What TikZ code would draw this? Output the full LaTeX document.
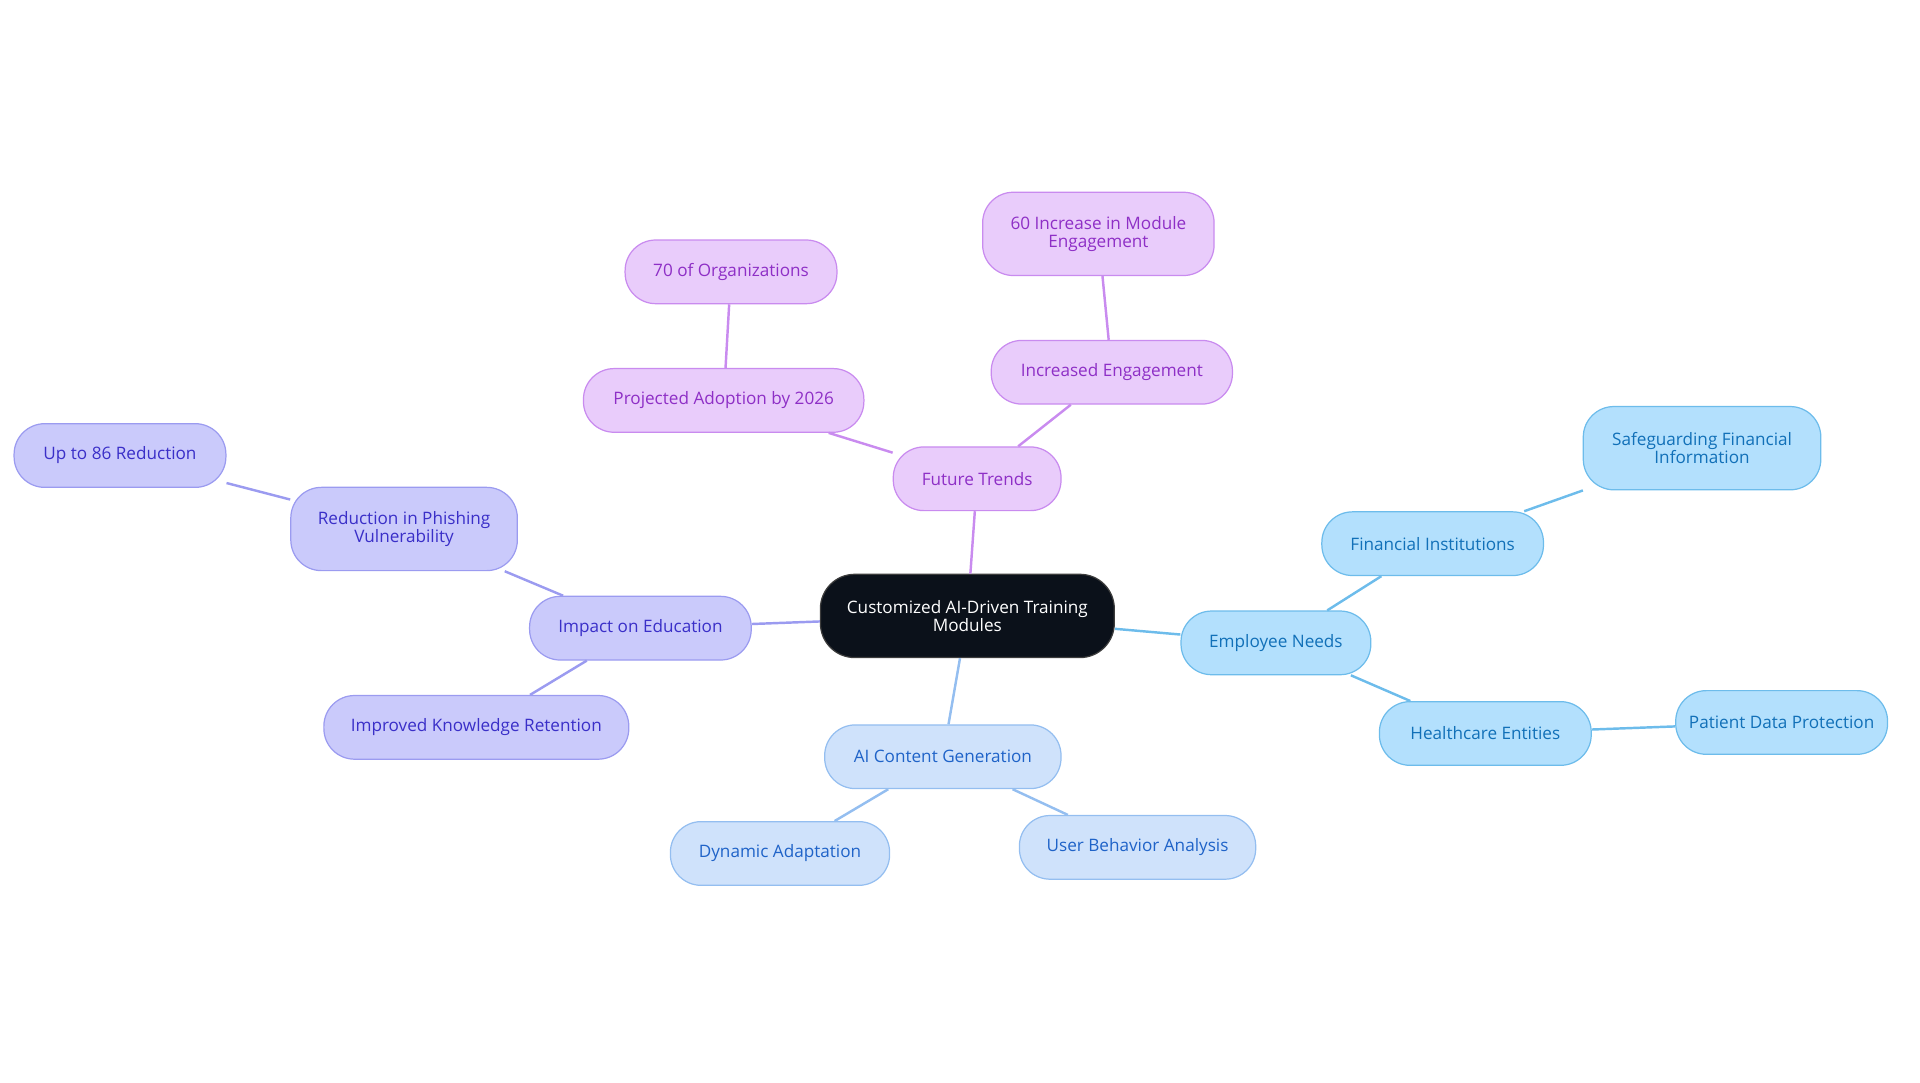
\documentclass[tikz,border=0pt]{standalone}
\usepackage{fontspec}
\setmainfont{Open Sans}
\begin{document}
\begin{tikzpicture}[x=0.5pt,y=-0.5pt,
 base/.style={rounded corners=12.5pt,align=center,font=\fontsize{7}{7.6}\selectfont,inner sep=0pt,line width=0.5pt},
 pur/.style={base,draw=purple!0!black!0,draw={rgb,255:red,201;green,139;blue,239},fill={rgb,255:red,233;green,204;blue,251},text={rgb,255:red,142;green,47;blue,198}},
 ind/.style={base,draw={rgb,255:red,155;green,155;blue,240},fill={rgb,255:red,202;green,202;blue,251},text={rgb,255:red,58;green,47;blue,200}},
 lbl/.style={base,draw={rgb,255:red,148;green,190;blue,240},fill={rgb,255:red,207;green,226;blue,251},text={rgb,255:red,31;green,99;blue,200}},
 sky/.style={base,draw={rgb,255:red,109;green,188;blue,235},fill={rgb,255:red,179;green,224;blue,253},text={rgb,255:red,17;green,112;blue,184}},
 ep/.style={line width=1pt,draw={rgb,255:red,201;green,139;blue,239}},
 ei/.style={line width=1pt,draw={rgb,255:red,155;green,155;blue,240}},
 el/.style={line width=1pt,draw={rgb,255:red,148;green,190;blue,240}},
 es/.style={line width=1pt,draw={rgb,255:red,109;green,188;blue,235}}]
\useasboundingbox (0,0) rectangle (1568,884.4);
\node[base,fill={rgb,255:red,11;green,17;blue,26},draw={rgb,255:red,60;green,60;blue,60},text=white,minimum width=120pt,minimum height=34pt,rounded corners=14pt] (c) at (790,503) {Customized AI-Driven Training\\Modules};
\node[pur,minimum width=68.5pt,minimum height=26pt] (ft) at (798,391) {Future Trends};
\node[pur,minimum width=114.5pt,minimum height=26pt] (pa) at (591,327) {Projected Adoption by 2026};
\node[pur,minimum width=86.5pt,minimum height=26pt] (o70) at (597,222) {70 of Organizations};
\node[pur,minimum width=98.5pt,minimum height=26pt] (ie) at (908,304) {Increased Engagement};
\node[pur,minimum width=94.5pt,minimum height=34pt] (i60) at (897,191) {60 Increase in Module\\Engagement};
\node[ind,minimum width=90.5pt,minimum height=26pt] (ed) at (523,513) {Impact on Education};
\node[ind,minimum width=92.5pt,minimum height=34pt] (rp) at (330,432) {Reduction in Phishing\\Vulnerability};
\node[ind,minimum width=86.5pt,minimum height=26pt] (u86) at (98,372) {Up to 86 Reduction};
\node[ind,minimum width=124.5pt,minimum height=26pt] (kr) at (389,594) {Improved Knowledge Retention};
\node[lbl,minimum width=96.5pt,minimum height=26pt] (ai) at (770,618) {AI Content Generation};
\node[lbl,minimum width=89.5pt,minimum height=26pt] (da) at (637,697) {Dynamic Adaptation};
\node[lbl,minimum width=96.5pt,minimum height=26pt] (ub) at (929,692) {User Behavior Analysis};
\node[sky,minimum width=77.5pt,minimum height=26pt] (en) at (1042,525) {Employee Needs};
\node[sky,minimum width=90.5pt,minimum height=26pt] (fi) at (1170,444) {Financial Institutions};
\node[sky,minimum width=97pt,minimum height=34pt] (sf) at (1390,366) {Safeguarding Financial\\Information};
\node[sky,minimum width=86.5pt,minimum height=26pt] (he) at (1213,599) {Healthcare Entities};
\node[sky,minimum width=86.5pt,minimum height=26pt] (pd) at (1455,590) {Patient Data Protection};
\begin{scope}[on background layer/.style={}]
\end{scope}
\draw[ep] (c) -- (ft); \draw[ep] (ft) -- (pa); \draw[ep] (pa) -- (o70);
\draw[ep] (ft) -- (ie); \draw[ep] (ie) -- (i60);
\draw[ei] (c) -- (ed); \draw[ei] (ed) -- (rp); \draw[ei] (rp) -- (u86); \draw[ei] (ed) -- (kr);
\draw[el] (c) -- (ai); \draw[el] (ai) -- (da); \draw[el] (ai) -- (ub);
\draw[es] (c) -- (en); \draw[es] (en) -- (fi); \draw[es] (fi) -- (sf); \draw[es] (en) -- (he); \draw[es] (he) -- (pd);
\end{tikzpicture}
\end{document}
